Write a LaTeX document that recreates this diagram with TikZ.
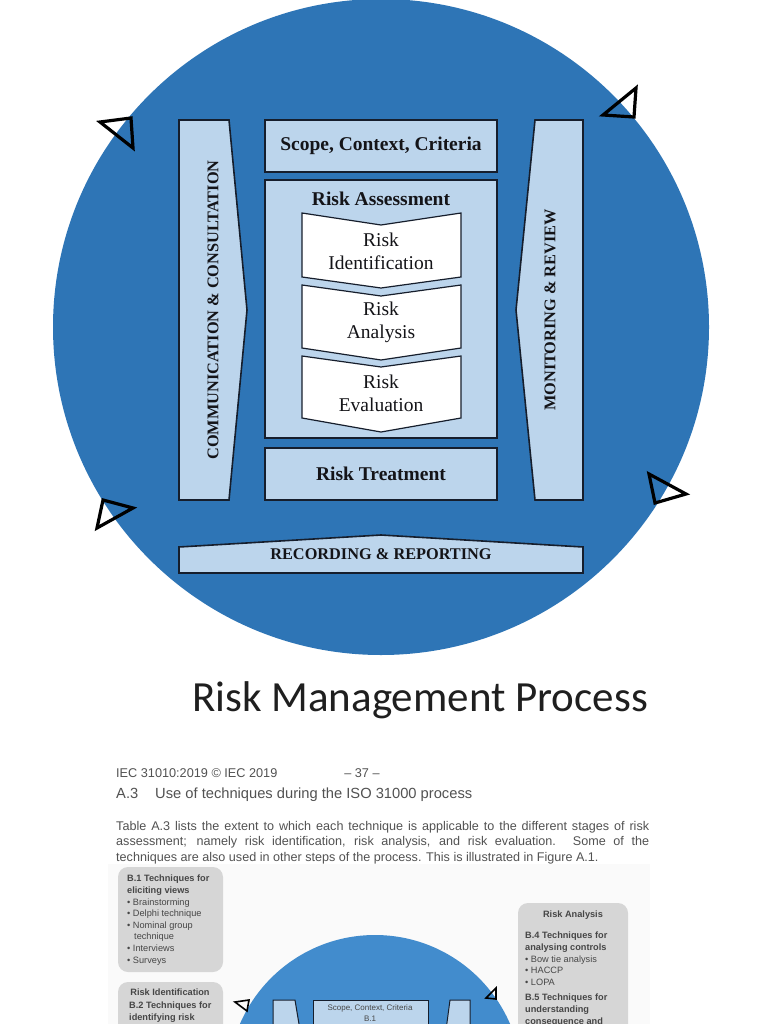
\documentclass[tikz,border=0pt]{standalone}
\usepackage{fontspec}
\setmainfont{Liberation Serif}
\newfontfamily\titlefont{Carlito}
\newfontfamily\docfont{Liberation Sans}
\definecolor{bigblue}{RGB}{46,117,182}
\definecolor{lightblue}{RGB}{188,213,236}
\definecolor{edge}{RGB}{22,30,44}
\definecolor{ink}{RGB}{20,20,24}
\definecolor{docgray}{RGB}{82,82,82}
\definecolor{boxgray}{RGB}{214,214,214}
\definecolor{boxink}{RGB}{70,70,70}
\definecolor{smallblue}{RGB}{66,140,205}
\definecolor{figbg}{RGB}{250,250,250}
\begin{document}
\begin{tikzpicture}[x=1pt,y=-1pt,
  panel/.style={fill=lightblue,draw=edge,line width=1.6pt,line join=miter},
  chevron/.style={fill=white,draw=edge,line width=1.2pt},
  boxlbl/.style={font=\fontsize{19.5}{23}\selectfont\bfseries,text=ink,inner sep=0pt},
  chevlbl/.style={font=\fontsize{19.5}{23}\selectfont,text=ink,align=center,inner sep=0pt},
  vertlbl/.style={font=\fontsize{16.3}{18}\selectfont\bfseries,text=ink,rotate=90,inner sep=0pt},
  turnmark/.style={draw=black,line width=3.2pt,line join=miter},
  doctext/.style={font=\docfont\fontsize{12.6}{15.5}\selectfont,text=docgray,inner sep=0pt},
  graybox/.style={fill=boxgray,rounded corners=10pt},
  boxtext/.style={font=\docfont\fontsize{9.2}{11.6}\selectfont,text=boxink,inner sep=0pt,align=left},
  smallpanel/.style={fill=lightblue,draw=edge,line width=1pt},
  smallmark/.style={draw=black,line width=1.6pt,line join=miter},
]
\clip (0,0) rectangle (768,1024);
\fill[white] (0,0) rectangle (768,1024);

% ---------------- main diagram ----------------
\fill[bigblue] (381,327) circle[radius=328pt];

% communication & consultation column
\draw[panel] (179,120) -- (229,120) -- (247,310) -- (229,500) -- (179,500) -- cycle;
\node[vertlbl] (comm) at (213,310) {COMMUNICATION \& CONSULTATION};

% monitoring & review column
\draw[panel] (535,120) -- (583,120) -- (583,500) -- (535,500) -- (516,310) -- cycle;
\node[vertlbl] (mon) at (550,310) {MONITORING \& REVIEW};

% scope box
\draw[panel] (265,120) rectangle (497,172);
\node[boxlbl] (scope) at (381,146) {Scope, Context, Criteria};

% risk assessment box
\draw[panel] (265,180) rectangle (497,438);
\node[boxlbl] (assess) at (381,199) {Risk Assessment};

\draw[chevron] (302,213) -- (381,225) -- (461,213) -- (461,277) -- (381,288) -- (302,277) -- cycle;
\node[chevlbl] (ident) at (381,251) {Risk\\Identification};
\draw[chevron] (302,285) -- (381,296) -- (461,285) -- (461,348) -- (381,360) -- (302,348) -- cycle;
\node[chevlbl] (anal) at (381,322) {Risk\\Analysis};
\draw[chevron] (302,356) -- (381,367) -- (461,356) -- (461,418) -- (381,432) -- (302,418) -- cycle;
\node[chevlbl] (evalu) at (381,393) {Risk\\Evaluation};

% risk treatment box
\draw[panel] (265,448) rectangle (497,500);
\node[boxlbl] (treat) at (381,474) {Risk Treatment};

% recording & reporting bar
\draw[panel] (179,547) -- (381,535) -- (583,547) -- (583,573) -- (179,573) -- cycle;
\node[vertlbl,rotate=-90] (rec) at (381,554) {RECORDING \& REPORTING};

% turning marks on the circle
\draw[turnmark] (100,122) -- (131,118) -- (133,148) -- cycle;
\draw[turnmark] (603,115) -- (636,88) -- (634,117) -- cycle;
\draw[turnmark] (103,500) -- (133,508) -- (97,528) -- cycle;
\draw[turnmark] (649,474) -- (686,494) -- (655,503) -- cycle;

% title
\node[font=\titlefont\fontsize{43}{50}\selectfont,text=black!88,inner sep=0pt] (title) at (420,700) {Risk Management Process};

% ---------------- scanned page ----------------
\node[doctext,anchor=base west,font=\docfont\fontsize{12.7}{14}\selectfont] (hdr) at (116,777) {IEC 31010:2019 © IEC 2019};
\node[doctext,anchor=base,font=\docfont\fontsize{12.7}{14}\selectfont] (pageno) at (362,777) {– 37 –};
\node[doctext,anchor=base west,font=\docfont\fontsize{14.7}{16}\selectfont] (secno) at (116,798) {A.3};
\node[doctext,anchor=base west,font=\docfont\fontsize{14.7}{16}\selectfont] (sectitle) at (155,798) {Use of techniques during the ISO 31000 process};
\node[doctext,anchor=north west,text width=533pt,align=justify] (para) at (116,821)
  {Table A.3 lists the extent to which each technique is applicable to the different stages of risk\linebreak
   assessment; namely risk identification, risk analysis, and risk evaluation. Some of the\linebreak
   techniques are also used in other steps of the process. This is illustrated in Figure A.1.};

\fill[figbg] (108,864) rectangle (650,1024);

% small figure circle
\fill[smallblue] (375,1082) circle[radius=147pt];
\draw[smallpanel] (273,1000) -- (295,1000) -- (300,1030) -- (273,1030) -- cycle;
\draw[smallpanel] (313,1000) rectangle (428,1030);
\node[font=\docfont\fontsize{8}{11}\selectfont,text=boxink,align=center,inner sep=0pt] (sscope) at (370,1013) {Scope, Context, Criteria\\B.1};
\draw[smallpanel] (450,1000) -- (470,1000) -- (470,1030) -- (446,1030) -- cycle;
\draw[smallmark] (235,1002) -- (249,1000) -- (247,1011) -- cycle;
\draw[smallmark] (486,998) -- (496,988) -- (496,999) -- cycle;

% gray boxes
\fill[graybox] (118,867) rectangle (223,972);
\node[boxtext,anchor=north west] (b1) at (127,875)
  {\textbf{B.1 Techniques for}\\\textbf{eliciting views}\\
   \textbullet\ Brainstorming\\\textbullet\ Delphi technique\\\textbullet\ Nominal group\\
   \hspace*{7pt}technique\\\textbullet\ Interviews\\\textbullet\ Surveys};

\fill[graybox] (118,982) rectangle (223,1040);
\node[boxtext,font=\docfont\bfseries\fontsize{9.2}{11.6}\selectfont] (b2t) at (170,992) {Risk Identification};
\node[boxtext,anchor=north west] (b2) at (129,1002)
  {\textbf{B.2 Techniques for}\\\textbf{identifying risk}};

\fill[graybox] (518,903) rectangle (628,1040);
\node[boxtext,font=\docfont\bfseries\fontsize{9.2}{11.6}\selectfont] (b3t) at (573,915) {Risk Analysis};
\node[boxtext,anchor=north west] (b3) at (525,932)
  {\textbf{B.4 Techniques for}\\\textbf{analysing controls}\\
   \textbullet\ Bow tie analysis\\\textbullet\ HACCP\\\textbullet\ LOPA};
\node[boxtext,anchor=north west] (b4) at (525,994)
  {\textbf{B.5 Techniques for}\\\textbf{understanding}\\\textbf{consequence and}};
\end{tikzpicture}
\end{document}
